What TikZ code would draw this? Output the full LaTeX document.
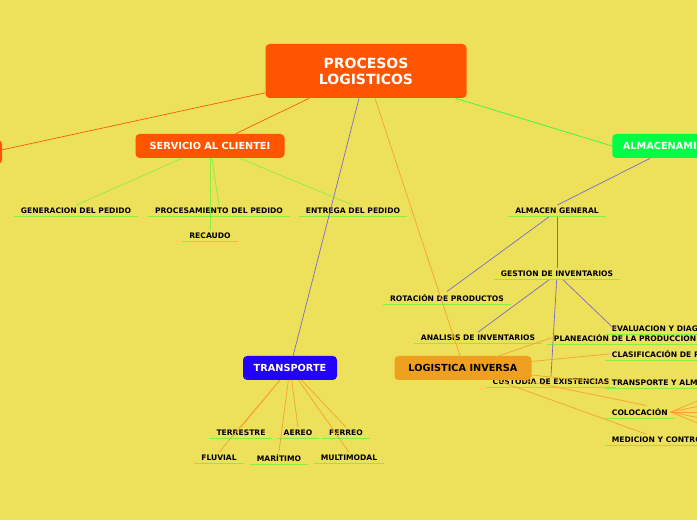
\documentclass[tikz,border=0pt]{standalone}
\usepackage{fontspec}
\setmainfont{DejaVu Sans}
\definecolor{bg}{HTML}{EDE05A}
\definecolor{orng}{HTML}{FF5500}
\definecolor{grn}{HTML}{00FF44}
\definecolor{blu}{HTML}{2200FF}
\definecolor{lorng}{HTML}{F0A020}
\definecolor{lg}{HTML}{88EE44}
\definecolor{pur}{HTML}{7766CC}
\definecolor{ol}{HTML}{F5A030}
\begin{document}
\begin{tikzpicture}[x=0.75pt,y=-0.75pt,
  main/.style={rounded corners=3pt,inner sep=0pt,text=white,font=\bfseries},
  leaf/.style={font=\bfseries\fontsize{5.7}{6}\selectfont,inner sep=2pt,anchor=center},
  ul/.style={lg,line width=0.8pt},
  gl/.style={lg,line width=0.5pt},
  pl/.style={pur,line width=0.5pt},
  ol2/.style={ol,line width=0.5pt}]
\fill[bg] (0,0) rectangle (697,520);
\clip (0,0) rectangle (697,520);
\useasboundingbox (0,0) rectangle (697,520);
% main nodes
\node[main,fill=orng,minimum width=201*0.75pt,minimum height=54*0.75pt,align=center,font=\bfseries\fontsize{10.5}{12}\selectfont] (root) at (366,71) {PROCESOS\\LOGISTICOS};
\node[main,fill=orng,minimum width=149*0.75pt,minimum height=24*0.75pt,font=\bfseries\fontsize{7.3}{8}\selectfont] (serv) at (210,146) {SERVICIO AL CLIENTEI};
\node[main,fill=orng,minimum width=20*0.75pt,minimum height=24*0.75pt] (left) at (-8,152) {};
\node[main,fill=grn,minimum height=24*0.75pt,anchor=west,inner xsep=8pt,font=\bfseries\fontsize{7.3}{8}\selectfont] (alm) at (612,146) {ALMACENAMIENTO};
\node[main,fill=blu,minimum width=94*0.75pt,minimum height=24*0.75pt,font=\bfseries\fontsize{7.3}{8}\selectfont] (trans) at (290,368) {TRANSPORTE};
% leaves
\node[leaf] (gen) at (76,211) {GENERACION DEL PEDIDO};
\node[leaf] (proc) at (219,211) {PROCESAMIENTO DEL PEDIDO};
\node[leaf] (ent) at (353,211) {ENTREGA DEL PEDIDO};
\node[leaf] (rec) at (210,236) {RECAUDO};
\node[leaf] (ag) at (557,211) {ALMACEN GENERAL};
\node[leaf] (gi) at (557,274) {GESTION DE INVENTARIOS};
\node[leaf] (rot) at (447,298) {ROTACIÓN DE PRODUCTOS};
\node[leaf] (ana) at (478,338) {ANALISIS DE INVENTARIOS};
\node[leaf,anchor=west] (eva) at (609,329) {EVALUACION Y DIAGNOSTICO};
\node[leaf,anchor=west] (pla) at (551,338) {PLANEACIÓN DE LA PRODUCCIÓN};
\node[leaf,anchor=west] (cla) at (609,354) {CLASIFICACIÓN DE PRODUCTOS};
\node[leaf] (cus) at (551,382) {CUSTODIA DE EXISTENCIAS};
\node[leaf,anchor=west] (tya) at (609,383) {TRANSPORTE Y ALMACENAMIENTO};
\node[leaf,anchor=west] (col) at (609,412) {COLOCACIÓN};
\node[leaf,anchor=west] (med) at (609,440) {MEDICION Y CONTROL};
\node[leaf] (ter) at (241,433) {TERRESTRE};
\node[leaf] (aer) at (298,433) {AEREO};
\node[leaf] (fer) at (346,433) {FERREO};
\node[leaf] (flu) at (219,458) {FLUVIAL};
\node[leaf] (mar) at (279,458) {MARÍTIMO};
\node[leaf] (mul) at (349,458) {MULTIMODAL};
\foreach \n in {gen,proc,ent,rec,ag,gi,rot,ana,eva,pla,cla,cus,tya,col,med,ter,aer,fer,flu,mar,mul}
  \draw[ul] ([xshift=-3pt]\n.south west) -- ([xshift=3pt]\n.south east);
% connectors
\draw[orng,line width=0.5pt] (root) -- (left);
\draw[orng,line width=0.5pt] (root) -- (serv);
\draw[grn!70!lg,line width=0.5pt] (root) -- (alm.west);
\draw[pl] (root) -- (trans);
\coordinate (liend) at (460,356);
\draw[ol2] (root) -- (liend);
\foreach \n in {gen,proc,ent,rec} \draw[gl] (serv) -- (\n.north);
\draw[pl] (alm) -- (ag.north);
\draw[pl] (ag) -- (gi.north);
\draw[pl] (ag) -- (rot.north);
\draw[pl] (gi) -- (ana.north);
\draw[pl] (gi) -- ([xshift=4pt]eva.west);
\draw[pl] (gi) -- (cus.north);
\node[main,fill=lorng,text=black,minimum width=137*0.75pt,minimum height=24*0.75pt,font=\bfseries\fontsize{7.3}{8}\selectfont] (li) at (463,368) {LOGISTICA INVERSA};
\foreach \n in {pla,cla,tya} \draw[ol2] (li) -- (\n.west);
\draw[ol2] (li) -- ([xshift=28pt]col.north west);
\draw[ol2] (li) -- ([xshift=28pt]med.north west);
\foreach \dy in {-12,-6,0,6,12} { \coordinate (c\dy) at (700,412+\dy); \draw[ol2] (col.east) -- (c\dy); }
\foreach \n in {ter,aer,fer,flu,mar,mul} \draw[ol2] (trans) -- (\n.north);
\end{tikzpicture}
\end{document}
